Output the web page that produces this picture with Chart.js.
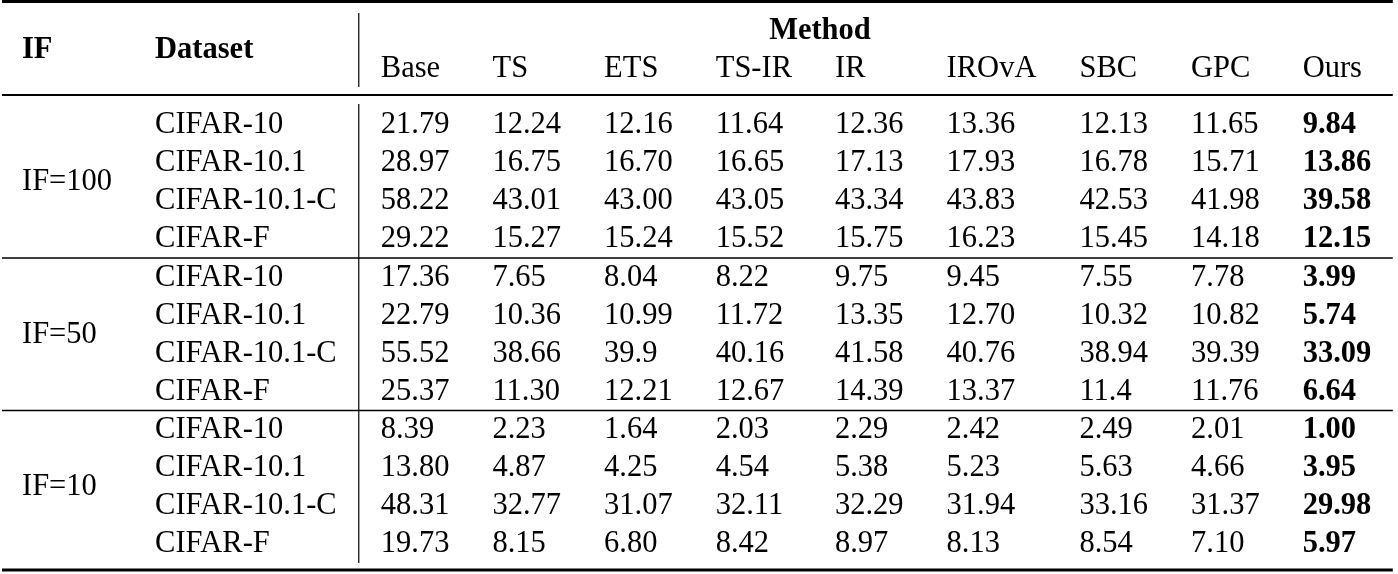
<!DOCTYPE html>
<html>
<head>
<meta charset="utf-8">
<title>Calibration error table</title>
<script src="https://cdn.jsdelivr.net/npm/chart.js@4.4.1/dist/chart.umd.min.js"></script>
<style>
  html, body { margin: 0; padding: 0; background: #fff; }
  #wrap { width: 1398px; height: 574px; }
</style>
</head>
<body>
<div id="wrap"><canvas id="my-table" width="1398" height="574"></canvas></div>
<script>
'use strict';

// ***** DATA *****

let ifLabels = ['IF=100', 'IF=50', 'IF=10'];
let datasetNames = ['CIFAR-10', 'CIFAR-10.1', 'CIFAR-10.1-C', 'CIFAR-F'];
let methodNames = ['Base', 'TS', 'ETS', 'TS-IR', 'IR', 'IROvA', 'SBC', 'GPC', 'Ours'];

// rows: IF=100 x 4 datasets, then IF=50, then IF=10 (kept as printed)
let baseVals  = ['21.79', '28.97', '58.22', '29.22', '17.36', '22.79', '55.52', '25.37', '8.39', '13.80', '48.31', '19.73'];
let tsVals    = ['12.24', '16.75', '43.01', '15.27', '7.65', '10.36', '38.66', '11.30', '2.23', '4.87', '32.77', '8.15'];
let etsVals   = ['12.16', '16.70', '43.00', '15.24', '8.04', '10.99', '39.9', '12.21', '1.64', '4.25', '31.07', '6.80'];
let tsIrVals  = ['11.64', '16.65', '43.05', '15.52', '8.22', '11.72', '40.16', '12.67', '2.03', '4.54', '32.11', '8.42'];
let irVals    = ['12.36', '17.13', '43.34', '15.75', '9.75', '13.35', '41.58', '14.39', '2.29', '5.38', '32.29', '8.97'];
let irovaVals = ['13.36', '17.93', '43.83', '16.23', '9.45', '12.70', '40.76', '13.37', '2.42', '5.23', '31.94', '8.13'];
let sbcVals   = ['12.13', '16.78', '42.53', '15.45', '7.55', '10.32', '38.94', '11.4', '2.49', '5.63', '33.16', '8.54'];
let gpcVals   = ['11.65', '15.71', '41.98', '14.18', '7.78', '10.82', '39.39', '11.76', '2.01', '4.66', '31.37', '7.10'];
let oursVals  = ['9.84', '13.86', '39.58', '12.15', '3.99', '5.74', '33.09', '6.64', '1.00', '3.95', '29.98', '5.97'];

let methodValues = [baseVals, tsVals, etsVals, tsIrVals, irVals, irovaVals, sbcVals, gpcVals, oursVals];
let boldMethod = 'Ours';

// ***** LAYOUT *****

const FONT = '"Liberation Serif", "Times New Roman", serif';
const SIZE = 30.5;
const COL_PAD = 21.5;
const TABLE_LEFT = 0.5;
const VLINE_W = 1.2;

const TOP_RULE = 1.5;
const METHOD_BASE = 39;
const HEAD_BASE = 77;
const HEAD_RULE = 95;
const FIRST_ROW = 133;
const ROW_PITCH = 38;
const GROUP_EXTRA = 0.5;
const RULE_BELOW = 11;
const BOTTOM_RULE = 570;

let measureCtx = document.createElement('canvas').getContext('2d');

function fontString(bold) {
    return (bold ? 'bold ' : '') + SIZE + 'px ' + FONT;
}

function textWidth(str, bold) {
    measureCtx.font = fontString(bold);
    return measureCtx.measureText(str).width;
}

function columnWidth(items) {
    let w = 0;
    for (let i = 0; i < items.length; i++) {
        w = Math.max(w, textWidth(items[i].text, items[i].bold));
    }
    return w;
}

// column contents, used only to size the columns like LaTeX does
let columns = [];
columns.push([{ text: 'IF', bold: true }].concat(ifLabels.map(t => ({ text: t, bold: false }))));
columns.push([{ text: 'Dataset', bold: true }].concat(datasetNames.map(t => ({ text: t, bold: false }))));
for (let m = 0; m < methodNames.length; m++) {
    let isBold = methodNames[m] === boldMethod;
    columns.push([{ text: methodNames[m], bold: false }].concat(methodValues[m].map(t => ({ text: t, bold: isBold }))));
}

let colLeft = [];
let colRight = [];
let cursor = TABLE_LEFT;
let vlineX = 0;
for (let c = 0; c < columns.length; c++) {
    cursor += COL_PAD;
    colLeft.push(cursor);
    cursor += columnWidth(columns[c]);
    colRight.push(cursor);
    cursor += COL_PAD;
    if (c === 1) {
        vlineX = cursor + VLINE_W / 2;
        cursor += VLINE_W;
    }
}
let tableRight = cursor;

function rowY(index) {
    let group = Math.floor(index / datasetNames.length);
    return FIRST_ROW + index * ROW_PITCH + group * GROUP_EXTRA;
}

function groupRuleY(group) {
    return rowY((group + 1) * datasetNames.length - 1) + RULE_BELOW;
}

// ***** DATASETS *****

function textSet(points, bold, align) {
    return {
        data: points,
        bold: bold,
        align: align,
        pointRadius: 0,
        pointHoverRadius: 0,
        showLine: false
    };
}

let chartSets = [];

// header row
chartSets.push(textSet([
    { x: colLeft[0], y: (METHOD_BASE + HEAD_BASE) / 2, text: 'IF' },
    { x: colLeft[1], y: (METHOD_BASE + HEAD_BASE) / 2, text: 'Dataset' },
    { x: (vlineX + colRight[colRight.length - 2] + COL_PAD) / 2, y: METHOD_BASE, text: 'Method', center: true }
], true, 'left'));

chartSets.push(textSet(methodNames.map((name, m) => ({ x: colLeft[m + 2], y: HEAD_BASE, text: name })), false, 'left'));

// imbalance factor labels, centred on their group
chartSets.push(textSet(ifLabels.map((label, g) => {
    let first = rowY(g * datasetNames.length);
    let last = rowY((g + 1) * datasetNames.length - 1);
    return { x: colLeft[0], y: (first + last) / 2, text: label };
}), false, 'left'));

// dataset names, repeated for each group
let nameRows = [];
for (let g = 0; g < ifLabels.length; g++) {
    for (let d = 0; d < datasetNames.length; d++) {
        let idx = g * datasetNames.length + d;
        nameRows.push({ x: colLeft[1], y: rowY(idx), text: datasetNames[d] });
    }
}
chartSets.push(textSet(nameRows, false, 'left'));

// one dataset per method column
for (let m = 0; m < methodNames.length; m++) {
    let pts = methodValues[m].map((v, r) => ({ x: colLeft[m + 2], y: rowY(r), text: v }));
    chartSets.push(textSet(pts, methodNames[m] === boldMethod, 'left'));
}

// ***** PLUGIN: RULES AND CELL TEXT *****

let tablePlugin = {
    id: 'booktabs',
    beforeDatasetsDraw(chart) {
        let ctx = chart.ctx;
        let xs = chart.scales.x;
        let ys = chart.scales.y;
        let x0 = xs.getPixelForValue(TABLE_LEFT + 1.5);
        let x1 = xs.getPixelForValue(tableRight);

        let rules = [
            { y: TOP_RULE, w: 3 },
            { y: HEAD_RULE, w: 1.8 },
            { y: BOTTOM_RULE, w: 3 }
        ];
        for (let g = 0; g < ifLabels.length - 1; g++) {
            rules.push({ y: groupRuleY(g), w: 1.6 });
        }

        ctx.save();
        ctx.strokeStyle = '#000';
        rules.forEach(rule => {
            let y = ys.getPixelForValue(rule.y);
            ctx.lineWidth = rule.w;
            ctx.beginPath();
            ctx.moveTo(x0, y);
            ctx.lineTo(x1, y);
            ctx.stroke();
        });

        // vertical separator after the Dataset column
        let vx = xs.getPixelForValue(vlineX);
        ctx.lineWidth = VLINE_W;
        ctx.beginPath();
        ctx.moveTo(vx, ys.getPixelForValue(TOP_RULE + 11.5));
        ctx.lineTo(vx, ys.getPixelForValue(HEAD_RULE - 8));
        ctx.moveTo(vx, ys.getPixelForValue(HEAD_RULE + 9));
        ctx.lineTo(vx, ys.getPixelForValue(BOTTOM_RULE - 7));
        ctx.stroke();
        ctx.restore();
    },
    afterDatasetsDraw(chart) {
        let ctx = chart.ctx;
        ctx.save();
        ctx.fillStyle = '#000';
        ctx.textBaseline = 'alphabetic';
        chart.data.datasets.forEach((set, i) => {
            let meta = chart.getDatasetMeta(i);
            ctx.font = fontString(set.bold);
            meta.data.forEach((el, j) => {
                let cell = set.data[j];
                ctx.textAlign = cell.center ? 'center' : set.align;
                ctx.fillText(cell.text, el.x, el.y);
            });
        });
        ctx.restore();
    }
};

// ***** CHART *****

let ctx = document.getElementById('my-table');

new Chart(ctx, {
    type: 'scatter',
    data: { datasets: chartSets },
    options: {
        responsive: false,
        devicePixelRatio: 1,
        animation: false,
        events: [],
        layout: { padding: 0 },
        plugins: {
            legend: { display: false },
            tooltip: { enabled: false }
        },
        scales: {
            x: { type: 'linear', min: 0, max: 1398, display: false },
            y: { type: 'linear', min: 0, max: 574, reverse: true, display: false }
        }
    },
    plugins: [tablePlugin]
});
</script>
</body>
</html>
